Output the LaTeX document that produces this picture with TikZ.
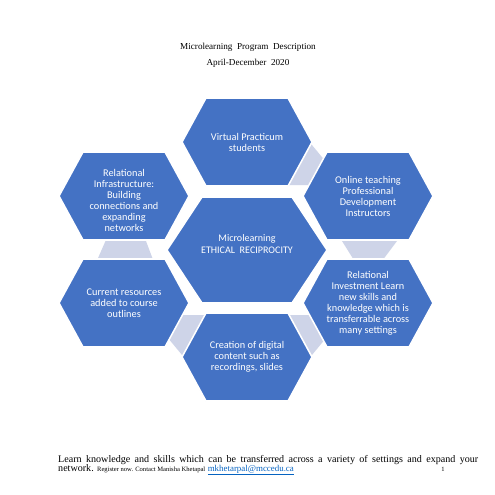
\documentclass[tikz,border=0pt]{standalone}
\usepackage{fontspec}
\setmainfont{Liberation Serif}
\newfontfamily\calibri{Carlito}
\usepackage{tikz}
\usetikzlibrary{calc}
\definecolor{mlBlue}{HTML}{4472C4}
\definecolor{mlLilac}{HTML}{CED4E8}
\definecolor{mlLink}{HTML}{0563C1}

\begin{document}
\begin{tikzpicture}[x=0.03cm, y=-0.03cm,
      hexcell/.style={fill=mlBlue, draw=white, line width=1.3pt},
      link/.style={fill=mlLilac},
      celltext/.style={text=white, align=center,
                       font=\calibri\fontsize{8.8}{9.4}\selectfont},
      title/.style={font=\fontsize{7.8}{9}\selectfont}]
    \useasboundingbox[fill=white] (0,0) rectangle (495,495);
    % hexagon centres
    \coordinate (top) at (247,142);
    \coordinate (ul)  at (124,196);
    \coordinate (ur)  at (368,196);
    \coordinate (ll)  at (124,303);
    \coordinate (lr)  at (368,303);
    \coordinate (bot) at (247,357);
    \coordinate (mid) at (247,250);
    % links between neighbouring cells
    \fill[link] ($(top)+(60,-3)$) -- ($(top)+(84,26)$) -- ($(top)+(66,43)$) -- ($(top)+(35,43)$) -- cycle;
    \fill[link] ($(ur)+(-31,37)$) -- ($(ur)+(35,37)$) -- ($(ur)+(11,69)$) -- ($(ur)+(-11,69)$) -- cycle;
    \fill[link] ($(bot)+(60,4)$) -- ($(bot)+(84,-25)$) -- ($(bot)+(66,-42)$) -- ($(bot)+(35,-42)$) -- cycle;
    \fill[link] ($(bot)+(-60,4)$) -- ($(bot)+(-84,-25)$) -- ($(bot)+(-66,-42)$) -- ($(bot)+(-35,-42)$) -- cycle;
    \fill[link] ($(ll)+(-15,-70)$) -- ($(ll)+(19,-70)$) -- ($(ll)+(31,-38)$) -- ($(ll)+(-29,-38)$) -- cycle;
    % cells
    \foreach \c in {top,ul,ur,ll,lr,bot}
      \filldraw[hexcell, shift={(\c)}]
        (-65,0) -- (-41,-44) -- (41,-44) -- (65,0) -- (41,44) -- (-41,44) -- cycle;
    \filldraw[hexcell, shift={(mid)}]
      (-80,0) -- (-45,-53) -- (45,-53) -- (80,0) -- (45,53) -- (-45,53) -- cycle;
    % cell texts
    \node[celltext] (toptxt) at (top) {Virtual Practicum\\students};
    \node[celltext] (urtxt) at (ur) {Online teaching\\Professional\\Development\\Instructors};
    \node[celltext] (lrtxt) at (lr) {Relational\\Investment Learn\\new skills and\\knowledge which is\\transferrable across\\many settings};
    \node[celltext] (bottxt) at (bot) {Creation of digital\\content such as\\recordings, slides};
    \node[celltext] (lltxt) at (ll) {Current resources\\added to course\\outlines};
    \node[celltext] (ultxt) at ($(ul)+(0,4)$) {Relational\\Infrastructure:\\Building\\connections and\\expanding\\networks};
    \node[celltext, font=\calibri\fontsize{8.6}{11}\selectfont] (midtxt) at ($(mid)+(0,-6)$)
      {Microlearning\\ETHICAL\ \ RECIPROCITY};
    % heading
    \node[title] (head) at (248,47) {Microlearning\ \ Program\ \ Description};
    \node[title] (dates) at (248,63) {April-December\ \ 2020};
    % footer
    \node[anchor=base west, inner sep=0, font=\fontsize{8.6}{9}\selectfont] (foot1) at (58,462)
      {\makebox[12.6cm][s]{Learn knowledge and skills which can be transferred across a variety of settings and expand your}};
    \node[anchor=base west, inner sep=0, font=\fontsize{8.6}{9}\selectfont] (foot2) at (58,471)
      {network. {\fontsize{5.6}{6}\selectfont Register now. Contact Manisha Khetapal}
       {\fontsize{7.6}{8}\selectfont\color{mlLink}\underline{mkhetarpal@mccedu.ca}}};
    \node[anchor=base, inner sep=0, font=\fontsize{5.5}{6}\selectfont] (page) at (443,471) {1};
  \end{tikzpicture}
\end{document}
